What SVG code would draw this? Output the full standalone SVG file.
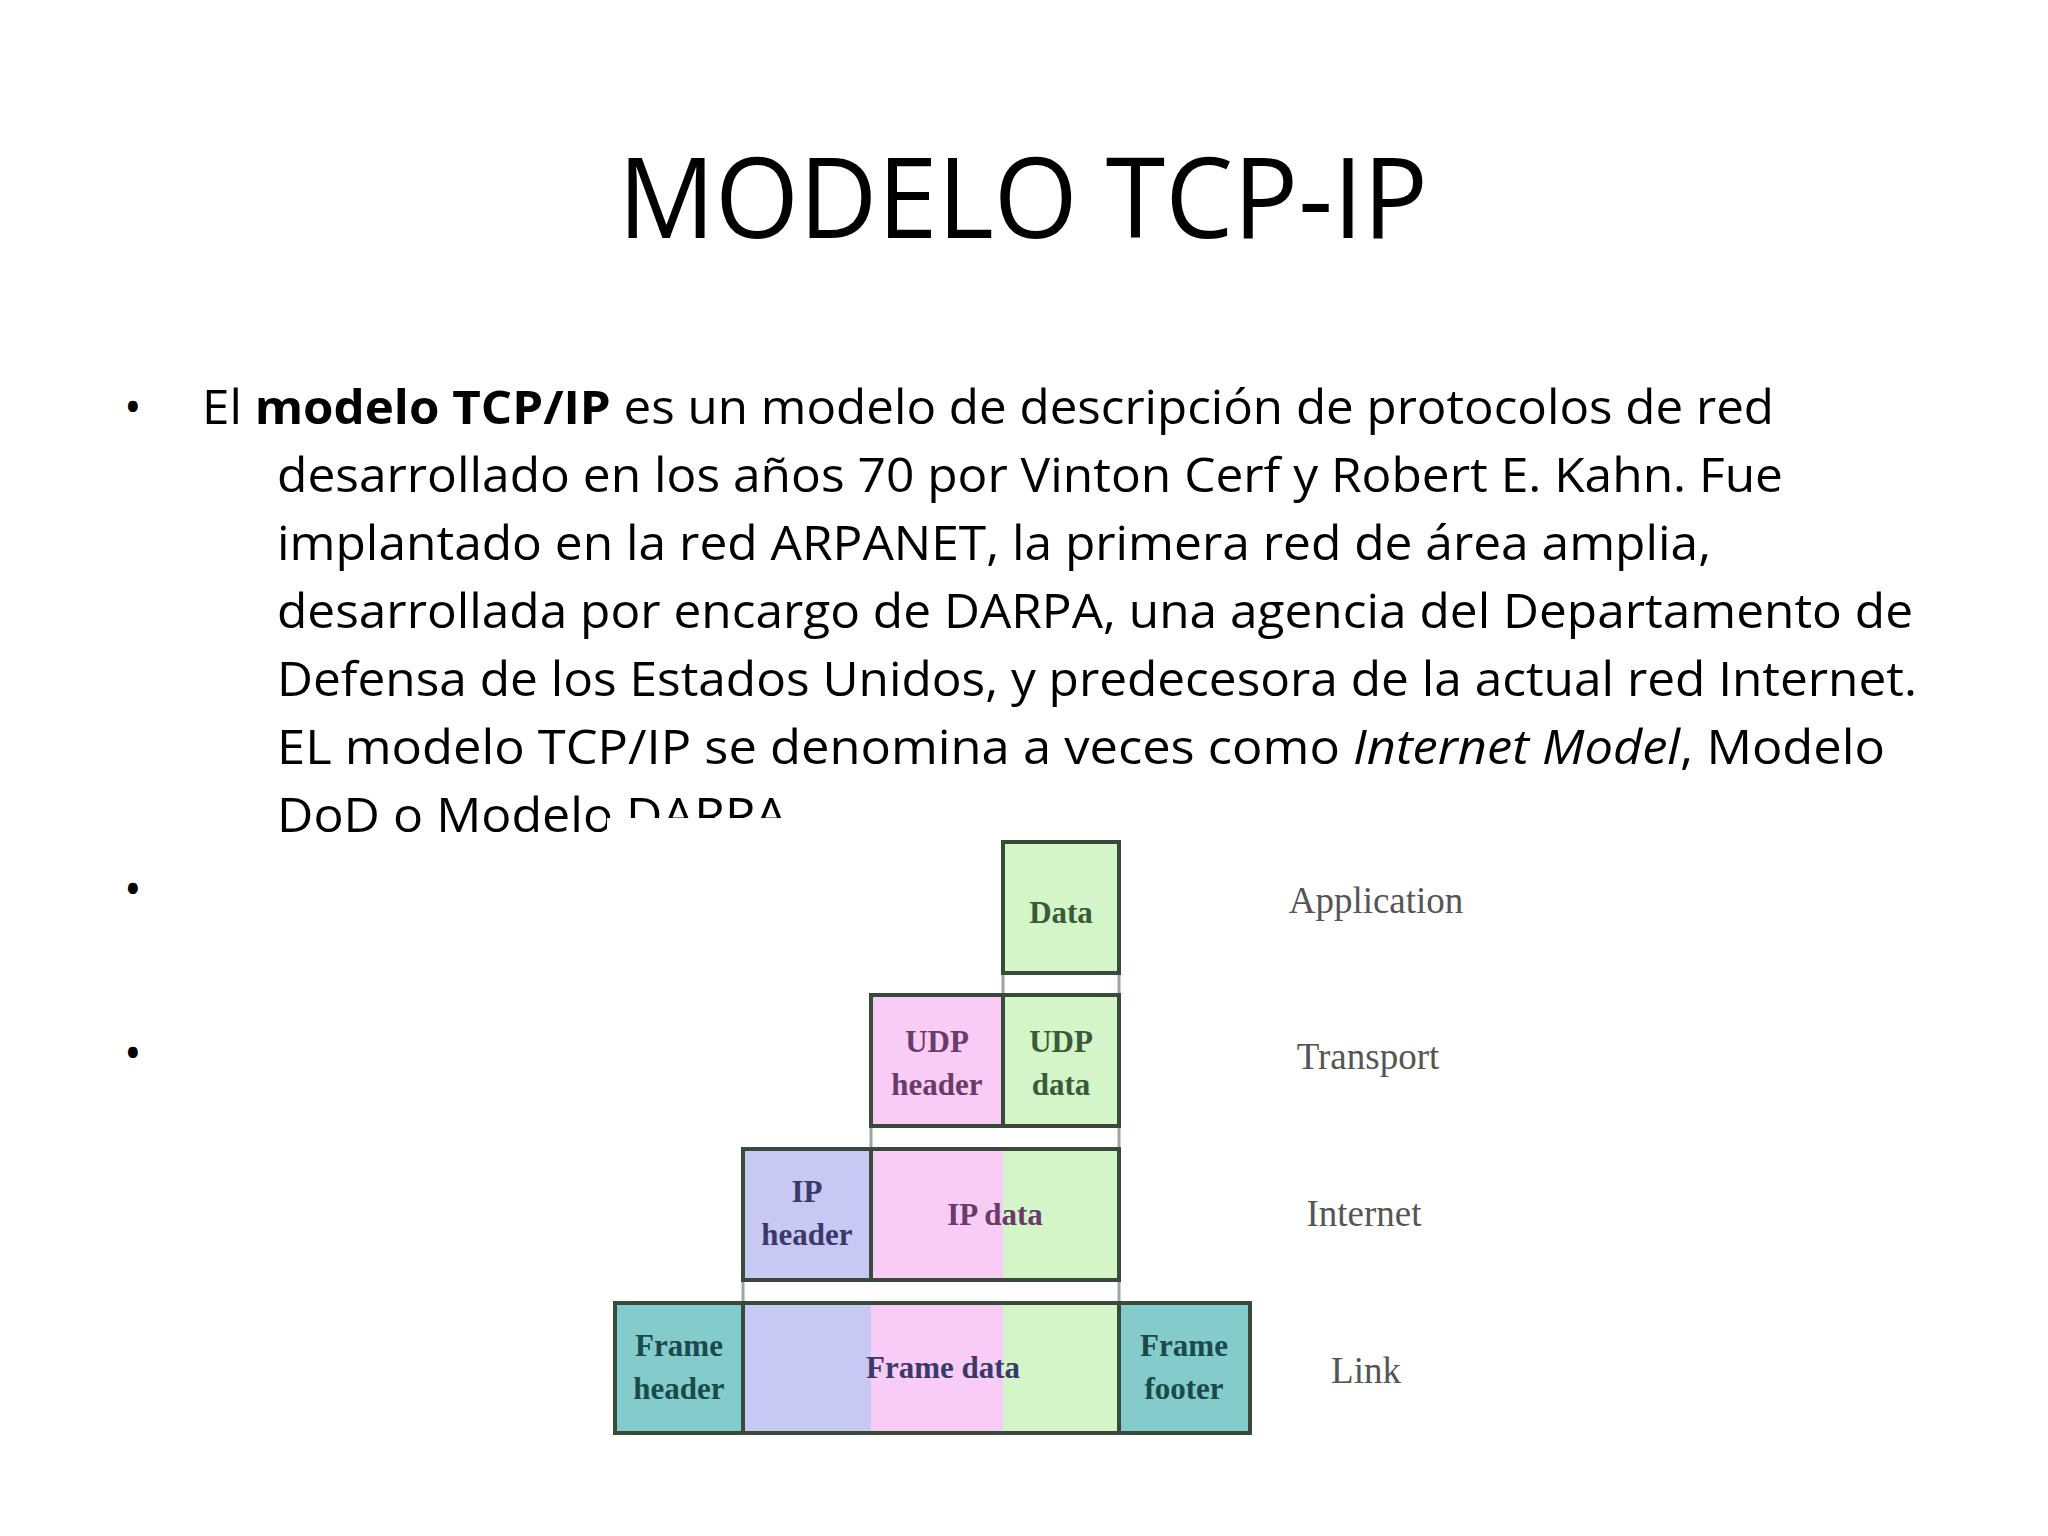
<svg xmlns="http://www.w3.org/2000/svg" width="2048" height="1536" viewBox="0 0 2048 1536">
<style>
.t{font-family:"Open Sans","Noto Sans",sans-serif;font-size:47px;fill:#000}
.d{font-family:"Liberation Serif",serif;font-size:31px;font-weight:bold;text-anchor:middle}
.l{font-family:"Liberation Serif",serif;font-size:37px;fill:#555;text-anchor:middle}
.b{stroke:#3a4a3a;stroke-width:4}
</style>
<rect width="2048" height="1536" fill="#fff"/>
<text x="1023" y="238" text-anchor="middle" font-family="'Open Sans','Noto Sans',sans-serif" font-size="112" textLength="810" lengthAdjust="spacingAndGlyphs">MODELO TCP-IP</text>
<g class="t">
<text x="124" y="424">•</text>
<text x="202" y="424" textLength="1572" lengthAdjust="spacingAndGlyphs">El <tspan font-weight="bold">modelo TCP/IP</tspan> es un modelo de descripción de protocolos de red</text>
<text x="277" y="492" textLength="1506" lengthAdjust="spacingAndGlyphs">desarrollado en los años 70 por Vinton Cerf y Robert E. Kahn. Fue</text>
<text x="277" y="560" textLength="1434" lengthAdjust="spacingAndGlyphs">implantado en la red ARPANET, la primera red de área amplia,</text>
<text x="277" y="628" textLength="1636" lengthAdjust="spacingAndGlyphs">desarrollada por encargo de DARPA, una agencia del Departamento de</text>
<text x="277" y="696" textLength="1640" lengthAdjust="spacingAndGlyphs">Defensa de los Estados Unidos, y predecesora de la actual red Internet.</text>
<text x="277" y="764" textLength="1608" lengthAdjust="spacingAndGlyphs">EL modelo TCP/IP se denomina a veces como <tspan font-style="italic">Internet Model</tspan>, Modelo</text>
<text x="277" y="832" textLength="510" lengthAdjust="spacingAndGlyphs">DoD o Modelo DARPA</text>
<text x="124" y="906">•</text>
<text x="124" y="1070">•</text>
</g>
<rect x="607" y="818" width="900" height="650" fill="#fff"/>
<g id="connectors" stroke="#9aa89a" stroke-width="3">
<line x1="1003" y1="973" x2="1003" y2="995"/><line x1="1119" y1="973" x2="1119" y2="995"/>
<line x1="871" y1="1126" x2="871" y2="1149"/><line x1="1119" y1="1126" x2="1119" y2="1149"/>
<line x1="743" y1="1280" x2="743" y2="1303"/><line x1="1119" y1="1280" x2="1119" y2="1303"/>
</g>
<g id="data"><rect x="1003" y="842" width="116" height="131" fill="#d4f5c8" class="b"/><text x="1061" y="923" class="d" fill="#3a5a3a">Data</text></g>
<g id="udp-header"><rect x="871" y="995" width="132" height="131" fill="#f8ccf4" class="b"/><text x="937" y="1052" class="d" fill="#6a3a6a">UDP</text><text x="937" y="1095" class="d" fill="#6a3a6a">header</text></g>
<g id="udp-data"><rect x="1003" y="995" width="116" height="131" fill="#d4f5c8" class="b"/><text x="1061" y="1052" class="d" fill="#3a5a3a">UDP</text><text x="1061" y="1095" class="d" fill="#3a5a3a">data</text></g>
<g id="ip-header"><rect x="743" y="1149" width="128" height="131" fill="#c8c8f4" class="b"/><text x="807" y="1202" class="d" fill="#3a3a6a">IP</text><text x="807" y="1245" class="d" fill="#3a3a6a">header</text></g>
<g id="ip-data"><rect x="871" y="1149" width="132" height="131" fill="#f8ccf4"/><rect x="1003" y="1149" width="116" height="131" fill="#d4f5c8"/><rect x="871" y="1149" width="248" height="131" fill="none" class="b"/><text x="995" y="1225" class="d" fill="#6a3a6a" font-size="27">IP data</text></g>
<g id="frame-header"><rect x="615" y="1303" width="128" height="130" fill="#84cccc" class="b"/><text x="679" y="1356" class="d" fill="#1a4a4a">Frame</text><text x="679" y="1399" class="d" fill="#1a4a4a">header</text></g>
<g id="frame-data"><rect x="743" y="1303" width="128" height="130" fill="#c8c8f4"/><rect x="871" y="1303" width="132" height="130" fill="#f8ccf4"/><rect x="1003" y="1303" width="116" height="130" fill="#d4f5c8"/><rect x="743" y="1303" width="376" height="130" fill="none" class="b"/><text x="943" y="1378" class="d" fill="#3a3a6a" font-size="27">Frame data</text></g>
<g id="frame-footer"><rect x="1119" y="1303" width="131" height="130" fill="#84cccc" class="b"/><text x="1184" y="1356" class="d" fill="#1a4a4a">Frame</text><text x="1184" y="1399" class="d" fill="#1a4a4a">footer</text></g>
<g id="labels">
<text x="1376" y="913" class="l">Application</text>
<text x="1368" y="1069" class="l">Transport</text>
<text x="1364" y="1226" class="l">Internet</text>
<text x="1366" y="1383" class="l">Link</text>
</g>
</svg>
